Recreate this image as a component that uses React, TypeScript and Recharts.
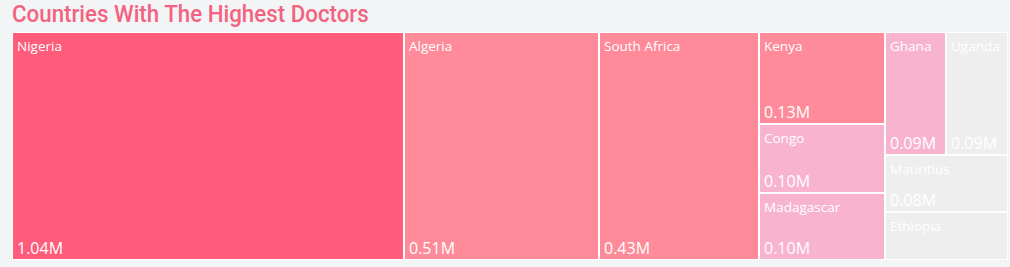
import { Treemap } from 'recharts';

// Doctors per country, in millions
const countries = ['Nigeria', 'Algeria', 'South Africa', 'Kenya', 'Congo', 'Madagascar', 'Ghana', 'Uganda', 'Mauritius', 'Ethiopia'];
const doctors = [1.04, 0.517, 0.425, 0.135, 0.101, 0.098, 0.088, 0.088, 0.081, 0.071];
const fills = ['#FF5B7B', '#FF8B9A', '#FF8B9A', '#FF8B9A', '#F8B3CF', '#F8B3CF', '#F8B3CF', '#EEEEEE', '#EEEEEE', '#EEEEEE'];
const valueLabels = ['1.04M', '0.51M', '0.43M', '0.13M', '0.10M', '0.10M', '0.09M', '0.09M', '0.08M', ''];

const data = countries.map((name, i) => ({
  name,
  size: doctors[i],
  fill: fills[i],
  label: valueLabels[i],
}));

const CellContent = (props: any) => {
  const { x, y, width, height, name, fill, label, depth } = props;
  if (depth !== 1) return null;
  return (
    <g>
      <rect x={x} y={y} width={width} height={height} fill={fill} stroke="#ffffff" strokeWidth={2} />
      <text
        x={x + 5}
        y={y + 19}
        fill="#ffffff"
        fontSize={13.5}
        fontFamily="'Open Sans', 'Noto Sans', sans-serif"
      >
        {name}
      </text>
      {label && (
        <text
          x={x + 5}
          y={y + height - 6}
          fill="#ffffff"
          fontSize={16}
          fontFamily="'Open Sans', 'Noto Sans', sans-serif"
        >
          {label}
        </text>
      )}
    </g>
  );
};

export default function App() {
  return (
    <div
      style={{
        position: 'fixed',
        left: 0,
        top: 0,
        width: 1010,
        height: 267,
        background: '#F3F4F6',
        overflow: 'hidden',
      }}
    >
      <div
        style={{
          position: 'absolute',
          left: 12,
          top: 1,
          lineHeight: '27px',
          fontFamily: 'Roboto, sans-serif',
          fontSize: 23,
          fontWeight: 500,
          color: '#F2637F',
          whiteSpace: 'nowrap',
          transform: 'scaleX(0.97)',
          transformOrigin: 'left top',
        }}
      >
        Countries With The Highest Doctors
      </div>
      <div style={{ position: 'absolute', left: 12, top: 32 }}>
        <Treemap
          width={996}
          height={228}
          data={data}
          dataKey="size"
          nameKey="name"
          isAnimationActive={false}
          content={<CellContent />}
        />
      </div>
    </div>
  );
}
